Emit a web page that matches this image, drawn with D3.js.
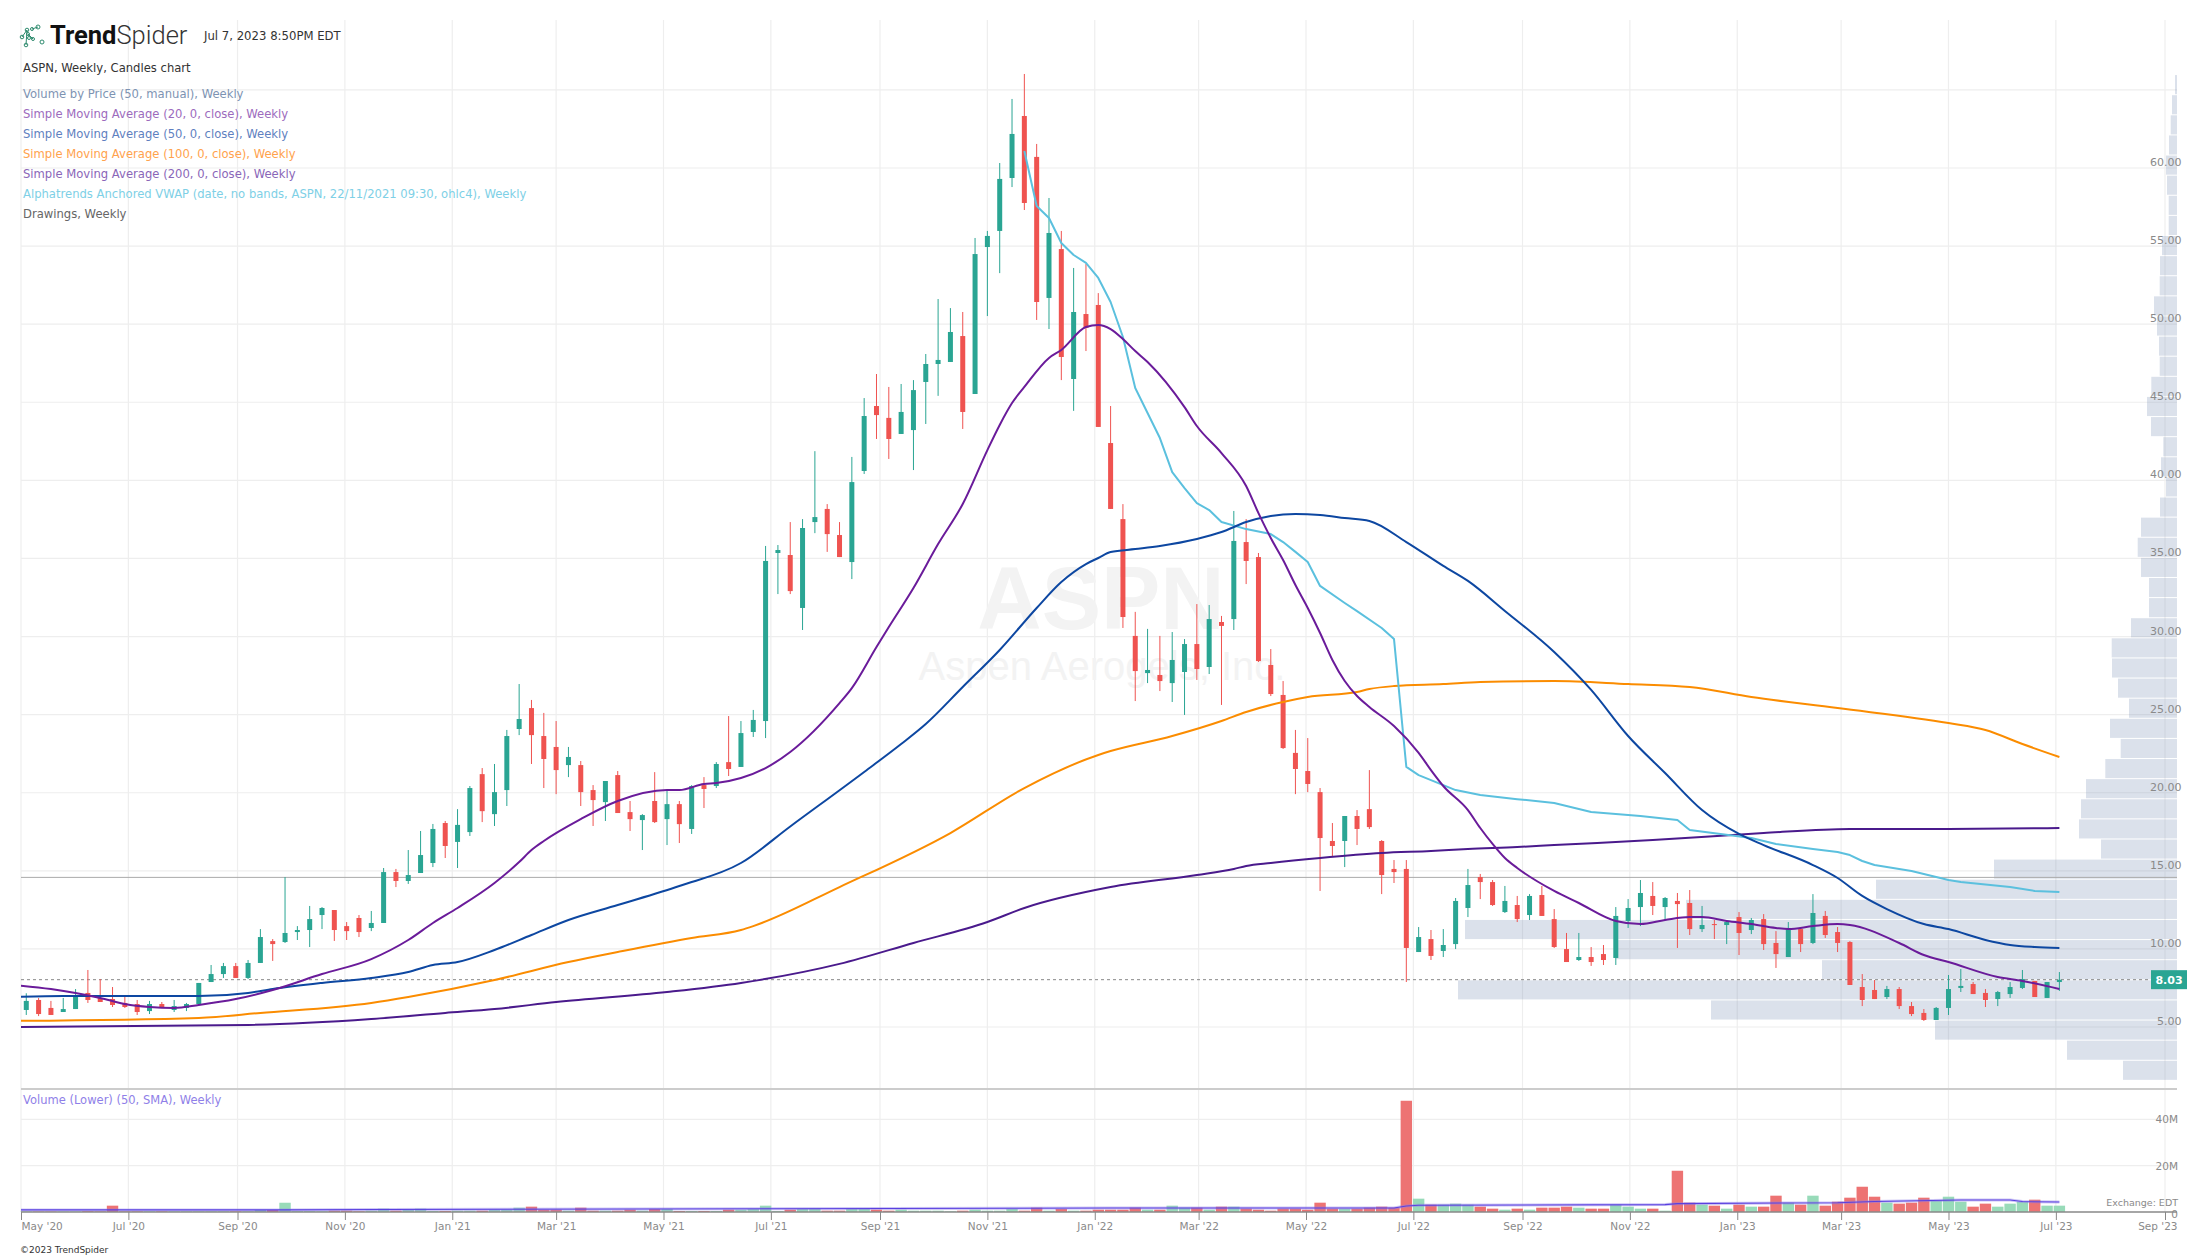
<!DOCTYPE html>
<html>
<head>
<meta charset="utf-8">
<script src="https://cdn.jsdelivr.net/npm/d3@7"></script>
<style>
  body { margin: 0; background: #fff; }
  text { font-family: "DejaVu Sans", sans-serif; }
</style>
</head>
<body>
<script>
// weekly ASPN candles (one value per week, May 2020 - Jul 2023)
var open = [6.09,6.73,6.22,5.96,6.15,7.18,6.86,6.79,6.54,6.47,
  6.02,6.47,6.09,6.22,6.47,7.88,8.39,8.90,8.14,9.10,
  10.50,10.44,11.08,11.21,12.17,12.49,11.46,11.98,11.34,11.66,
  14.92,14.35,14.86,15.50,18.06,16.85,17.48,21.19,18.63,20.17,
  24.08,25.42,23.63,22.93,21.77,21.77,20.17,19.40,21.13,18.76,
  18.25,19.47,18.31,19.27,17.68,20.49,20.43,21.96,21.65,23.89,
  24.59,35.35,35.22,31.83,37.33,38.17,36.50,34.77,40.60,44.76,
  44.00,42.97,43.22,46.30,47.45,47.58,49.24,45.53,54.94,55.97,
  59.36,63.33,60.71,51.68,54.81,46.49,50.65,51.23,42.39,37.52,
  30.04,27.66,27.54,27.02,27.73,29.52,28.05,30.93,31.12,36.05,
  35.09,28.18,26.26,22.55,21.39,20.04,16.91,16.91,18.51,18.95,
  16.91,15.12,15.12,9.80,10.63,9.87,10.31,12.62,14.60,14.28,
  12.36,12.81,12.17,13.45,11.91,9.99,9.29,9.48,9.67,9.42,
  11.79,12.68,13.39,12.68,13.07,12.94,11.27,11.59,11.53,12.04,
  11.21,11.91,10.38,9.48,11.27,10.38,12.11,11.08,10.44,7.56,
  7.37,6.92,7.43,6.34,5.90,5.45,6.22,7.50,7.75,7.18,
  6.79,7.11,7.50,7.95,6.86,7.88];
var high = [7.16,6.86,6.67,6.86,7.43,8.65,8.07,7.56,6.92,6.73,
  6.67,6.60,6.73,6.54,7.82,8.97,9.10,9.10,9.29,11.27,
  10.63,14.60,11.46,12.75,12.68,12.49,11.72,12.17,12.43,15.18,
  15.12,16.33,17.55,18.00,18.19,18.95,20.43,21.58,21.84,24.02,
  26.96,25.94,25.11,24.59,22.93,22.03,20.49,20.75,21.39,19.47,
  18.63,21.32,20.17,19.47,20.49,21.00,21.96,24.91,24.59,25.30,
  35.80,35.86,37.33,37.52,41.87,38.48,37.33,41.50,45.27,46.81,
  45.98,46.17,46.42,48.09,51.61,51.03,50.78,55.52,55.97,60.32,
  64.42,66.02,61.54,58.08,55.97,53.60,53.85,51.99,44.76,38.48,
  31.58,30.49,30.04,30.29,29.84,32.08,32.02,31.32,38.04,37.52,
  35.35,29.20,27.15,24.02,23.50,20.30,18.06,18.51,18.89,21.45,
  16.97,15.69,15.69,11.40,11.21,11.27,13.26,15.12,14.80,14.41,
  14.03,13.39,13.51,14.03,12.55,11.02,11.02,10.12,10.25,12.68,
  13.19,14.41,14.28,13.32,13.58,13.77,12.75,11.85,11.85,12.36,
  11.98,12.23,11.14,11.72,11.40,13.51,12.43,11.40,10.50,8.39,
  8.01,7.63,7.56,6.60,6.15,6.28,8.33,8.71,7.88,7.43,
  7.31,7.88,8.65,7.95,7.88,8.52];
var low = [5.77,5.70,5.77,5.96,6.15,6.54,6.60,6.28,6.22,5.77,
  5.83,6.22,5.96,6.02,6.41,7.88,8.14,8.14,8.07,9.10,
  9.23,10.38,10.57,10.12,11.27,10.51,10.57,10.76,11.14,11.66,
  13.96,14.16,14.86,15.24,15.82,15.18,17.23,18.12,17.87,19.15,
  23.69,21.84,20.30,19.91,21.00,19.15,17.87,18.19,18.70,17.55,
  16.33,18.06,16.65,16.78,17.36,19.02,20.30,21.07,21.65,23.57,
  23.50,32.72,32.72,30.42,36.62,35.42,35.09,33.68,40.41,42.65,
  41.37,42.97,40.66,43.61,45.41,47.58,43.29,45.53,50.52,53.27,
  58.78,57.31,50.27,49.69,46.42,44.45,48.28,43.42,38.17,30.55,
  25.87,27.02,26.51,25.81,24.98,27.22,27.60,25.62,30.42,33.36,
  28.37,26.19,22.80,19.91,20.04,13.71,15.95,15.24,16.65,17.68,
  13.51,14.22,7.88,9.80,9.29,9.48,9.99,12.04,13.19,12.75,
  12.30,11.72,11.85,12.11,10.06,9.16,9.23,8.91,8.97,8.97,
  11.34,11.46,12.17,11.85,10.06,10.89,11.08,10.63,10.31,9.61,
  10.95,9.93,8.78,9.48,9.80,10.31,10.70,9.80,7.69,6.34,
  6.79,6.79,6.15,5.70,5.39,5.45,5.77,7.24,7.11,6.28,
  6.34,6.86,7.43,6.92,6.86,7.31];
var close = [6.67,5.83,5.77,6.15,6.98,6.73,6.60,6.41,6.28,5.96,
  6.47,6.22,6.34,6.47,7.82,8.39,8.90,8.14,9.10,10.76,
  10.31,11.02,11.21,11.91,12.62,11.21,11.14,11.08,11.66,14.92,
  14.35,14.73,16.01,17.68,16.59,17.94,20.30,18.82,20.04,23.63,
  24.72,23.69,22.16,21.45,22.29,20.04,19.53,20.75,18.70,18.31,
  18.57,18.12,19.27,17.99,20.43,20.24,21.84,21.52,23.82,24.66,
  34.84,35.54,32.91,36.95,37.65,36.56,35.09,39.89,44.12,44.18,
  42.65,44.38,45.78,47.45,47.71,49.50,44.38,54.49,55.65,59.30,
  62.18,57.76,51.42,55.84,47.90,50.78,49.76,43.42,38.17,31.25,
  27.79,27.86,27.15,28.50,29.52,27.92,31.12,30.68,36.12,34.84,
  28.43,26.32,22.86,21.52,20.56,17.10,16.59,18.51,17.68,17.80,
  14.73,14.92,10.06,10.76,9.55,10.25,13.07,14.09,14.28,12.81,
  13.07,11.91,13.39,12.11,10.12,9.16,9.48,9.16,9.29,12.11,
  12.62,13.58,12.75,13.26,12.87,11.27,11.53,11.53,11.72,11.02,
  11.85,10.31,9.67,11.34,10.31,12.30,10.89,10.38,7.69,6.73,
  6.79,7.43,6.34,5.83,5.45,6.22,7.43,7.63,7.11,6.73,
  7.24,7.56,8.07,6.92,7.88,8.03];
// weekly volume, millions of shares
var volume = [0.2,0.2,0.2,0.2,0.2,0.4,0.3,2.73,0.3,0.3,
  0.3,0.3,0.3,0.3,0.3,0.3,0.3,0.3,0.3,0.86,
  0.86,4.0,0.43,0.43,0.3,0.57,0.57,0.3,0.57,1.44,
  0.57,0.86,1.44,0.43,0.43,0.57,0.57,0.57,1.0,1.0,
  1.87,2.3,1.0,1.0,0.57,1.87,0.57,0.57,0.57,1.0,
  0.57,1.3,1.3,0.43,0.43,0.43,0.43,1.0,1.0,1.3,
  2.73,0.43,1.0,1.3,1.44,0.57,0.57,1.3,1.3,1.0,
  0.57,1.0,0.57,0.57,0.57,0.3,0.57,1.0,0.57,0.57,
  1.3,0.57,1.87,0.57,1.3,0.57,0.57,1.0,1.0,1.0,
  1.87,1.0,1.0,2.73,1.87,1.87,1.0,2.3,2.3,1.44,
  1.0,0.57,1.44,1.44,1.0,4.02,1.44,1.44,1.44,1.87,
  2.3,1.87,48.0,5.75,3.16,3.16,3.6,3.16,2.3,1.44,
  1.0,1.44,1.0,1.87,1.87,2.3,1.87,1.44,1.44,3.16,
  2.3,1.44,1.44,0.57,17.8,4.02,3.16,2.73,1.44,3.16,
  2.3,2.3,7.04,4.02,3.16,7.04,2.73,4.45,6.18,10.9,
  6.6,4.02,3.6,4.02,6.18,4.89,6.6,4.45,2.3,3.6,
  2.3,3.6,4.45,5.32,2.73,2.73];

// indicator lines: week number (0 = first candle) and value
var sma20Weeks = [-1,2,4,6,8,10,12,14,17,20,24,28,31,33,35,38,40,41,42,45,48,52,53,55,56,58,60,62,66,67,69,70,72,74,76,78,79,80,81,83,84,86,87,88,89,90,91,94,95,97,99,100,101,102,103,104,105,106,107,108,109,111,113,114,115,117,118,119,120,121,124,126,129,131,133,135,136,138,140,142,143,145,147,148,152,154,156,160,162,165];
var sma20 = [7.69,7.43,7.18,6.86,6.47,6.28,6.22,6.41,6.79,7.37,8.39,9.35,10.57,11.66,12.62,14.22,15.56,16.33,16.91,18.31,19.47,20.17,20.17,20.56,20.62,20.94,21.58,22.61,25.74,26.70,29.33,30.61,33.11,35.92,38.49,41.94,43.55,44.95,45.98,47.84,48.35,49.82,49.95,49.69,49.05,48.28,47.58,44.69,43.48,41.75,39.64,37.90,36.31,34.90,33.30,31.83,30.23,28.50,27.15,26.19,25.49,24.27,22.55,21.45,20.43,18.89,17.74,16.72,15.82,15.18,13.71,12.94,11.79,11.59,11.85,12.04,12.04,11.79,11.59,11.34,11.27,11.46,11.59,11.53,10.38,9.61,9.16,8.20,7.95,7.43];
var sma50Weeks = [-1,3,14,18,20,24,28,31,33,35,38,41,44,48,53,58,62,68,71,73,76,79,82,84,86,87,88,90,92,95,97,99,101,103,105,107,109,112,115,117,120,124,127,130,133,136,139,141,145,147,149,151,154,156,159,161,163,165];
var sma50 = [6.92,6.98,6.98,7.18,7.43,7.82,8.14,8.52,8.97,9.16,9.93,10.89,11.85,12.81,14.03,15.50,17.84,21.33,23.12,24.40,26.77,29.14,31.83,33.49,34.64,35.03,35.41,35.60,35.80,36.25,36.69,37.33,37.72,37.85,37.78,37.59,37.40,36.05,34.52,33.56,31.64,29.01,26.58,23.63,21.26,18.89,17.36,16.65,15.37,14.54,13.39,12.55,11.59,11.27,10.57,10.25,10.12,10.06];
var sma100Weeks = [-1,14,19,28,31,38,44,48,54,58,59,66,75,81,87,88,93,97,99,102,104,108,109,111,115,118,124,130,135,140,147,156,159,162,165];
var sma100 = [5.39,5.58,5.90,6.54,6.92,8.01,9.16,9.80,10.70,11.21,11.46,13.96,17.42,20.30,22.42,22.67,23.63,24.59,25.17,25.81,26.13,26.45,26.64,26.83,26.96,27.09,27.15,26.96,26.77,26.13,25.42,24.46,24.02,23.12,22.29];
var sma200Weeks = [-1,18,28,34,38,43,52,58,66,72,78,81,88,95,98,99,101,105,110,114,117,121,124,132,141,148,156,165];
var sma200 = [5.00,5.13,5.51,5.90,6.15,6.60,7.24,7.82,9.04,10.38,11.72,12.62,13.96,14.73,15.12,15.31,15.50,15.82,16.14,16.27,16.40,16.52,16.65,16.97,17.42,17.68,17.68,17.74];
var vwapWeeks = [81,82,83,84,85,86,87,88,89,90,91,92,93,94,95,96,97,99,101,102,103,104,105,107,108,110,111,112,113,115,116,118,121,124,127,131,134,135,140,142,145,147,148,149,150,153,156,157,161,163,165];
var vwap = [61.09,57.57,56.80,55.20,54.43,53.92,52.96,51.42,49.18,45.91,44.31,42.71,40.53,39.51,38.55,38.10,37.33,36.88,36.56,36.05,35.42,34.77,33.24,32.15,31.63,30.55,29.84,21.65,21.13,20.49,20.17,19.85,19.59,19.34,18.76,18.51,18.25,17.61,17.10,16.72,16.40,16.21,16.01,15.63,15.37,14.99,14.41,14.28,13.96,13.71,13.64];
var volSmaWeeks = [-1,21,29,60,80,88,100,111,112,113,133,134,147,150,157,161,162,165];
var volSma = [0.9,0.9,1.1,1.4,1.6,1.7,1.7,1.7,2.6,2.9,3.2,3.6,4.0,4.5,5.2,5.2,4.5,4.3];

// volume by price, 50 bins from the top of the range down (relative size)
var vbpVolume = [2,5,6.3,8,11,10,8.3,8.3,15,17,17.3,23,20,18,17.3,25.7,30,26,13.7,16,
  11,17,36,39.3,36,28,28,46,65.3,65,59,48,67,56.3,71.7,91,96,98,76,183,
  301,491,712,561,355,719,466,242,110,54];
var vbpTop = 65.95;
var vbpStep = 1.288;

var priceTicks = [5,10,15,20,25,30,35,40,45,50,55,60];
var priceGrid = priceTicks.concat([65]);
var volumeTicks = [0,20,40];
var monthTicks = d3.utcMonth.range(new Date(Date.UTC(2020,4,1)), new Date(Date.UTC(2023,9,1)), 2);
var lastPrice = 8.03;
var levelPrice = 14.58;

var legend = [
  ["ASPN, Weekly, Candles chart", "#333333", 68],
  ["Volume by Price (50, manual), Weekly", "#7d93b2", 94],
  ["Simple Moving Average (20, 0, close), Weekly", "#9c6bbd", 114],
  ["Simple Moving Average (50, 0, close), Weekly", "#5f7fc0", 134],
  ["Simple Moving Average (100, 0, close), Weekly", "#ffa24d", 154],
  ["Simple Moving Average (200, 0, close), Weekly", "#8a66b8", 174],
  ["Alphatrends Anchored VWAP (date, no bands, ASPN, 22/11/2021 09:30, ohlc4), Weekly", "#7ed0e6", 194],
  ["Drawings, Weekly", "#666666", 214]
];

var red = "#ef5350", green = "#2aa593";
var gridColor = "#eeeeee", labelColor = "#8a8a8a";
var w = 2207, h = 1259;
var left = 21, right = 2177;

var svg = d3.select("body").append("svg")
  .attr("width", w).attr("height", h)
  .attr("viewBox", `0 0 ${w} ${h}`)
  .style("display", "block");

svg.append("clipPath").attr("id", "plot")
  .append("rect").attr("x", left).attr("y", 0).attr("width", right - left).attr("height", h);

// scales
var firstWeek = new Date(Date.UTC(2020,4,4));
var weekDate = function (k) { return d3.utcMonday.offset(firstWeek, k); };

var x = d3.scaleUtc()
  .domain([new Date(Date.UTC(2020,4,1)), new Date(Date.UTC(2023,8,1))])
  .range([21, 2165]);
var y = d3.scaleLinear().domain([60, 5]).range([168, 1027]);
var yVol = d3.scaleLinear().domain([0, 40]).range([1212, 1119.3]);
var xVbp = d3.scaleLinear().domain([0, 719]).range([right, 1458]);

// grid
svg.append("g").selectAll("line").data(monthTicks).enter().append("line")
  .attr("x1", d => x(d)).attr("x2", d => x(d))
  .attr("y1", 20).attr("y2", yVol(0))
  .attr("stroke", gridColor).attr("stroke-width", 1.2);
svg.append("g").selectAll("line").data(priceGrid).enter().append("line")
  .attr("x1", left).attr("x2", right)
  .attr("y1", d => y(d)).attr("y2", d => y(d))
  .attr("stroke", gridColor).attr("stroke-width", 1.2);
svg.append("g").selectAll("line").data(volumeTicks.slice(1)).enter().append("line")
  .attr("x1", left).attr("x2", right)
  .attr("y1", d => yVol(d)).attr("y2", d => yVol(d))
  .attr("stroke", gridColor).attr("stroke-width", 1.2);

// watermark
svg.append("text").text("ASPN")
  .attr("x", 1101).attr("y", 629).attr("text-anchor", "middle")
  .style("font-family", "'Liberation Sans'").style("font-weight", "bold").style("font-size", "89px")
  .attr("fill", "#f3f3f3");
svg.append("text").text("Aspen Aerogels, Inc.")
  .attr("x", 1102).attr("y", 680).attr("text-anchor", "middle")
  .style("font-family", "'Liberation Sans'").style("font-size", "40px")
  .attr("fill", "#f3f3f3");

// volume by price
svg.append("g").selectAll("rect").data(vbpVolume).enter().append("rect")
  .attr("x", d => xVbp(d))
  .attr("width", d => right - xVbp(d))
  .attr("y", (d, i) => y(vbpTop - i * vbpStep))
  .attr("height", (d, i) => y(vbpTop - (i + 1) * vbpStep) - y(vbpTop - i * vbpStep) - 1)
  .attr("fill", "#7f95b8").attr("opacity", 0.28);

// level lines
svg.append("line")
  .attr("x1", left).attr("x2", right)
  .attr("y1", y(levelPrice)).attr("y2", y(levelPrice))
  .attr("stroke", "#aaaaaa").attr("stroke-width", 1);
svg.append("line")
  .attr("x1", left).attr("x2", 2152)
  .attr("y1", y(lastPrice)).attr("y2", y(lastPrice))
  .attr("stroke", "#888888").attr("stroke-dasharray", "3,3").attr("stroke-width", 1);

// candles
var weeks = d3.range(open.length);
var candles = svg.append("g").selectAll("g").data(weeks).enter().append("g");
candles.append("line")
  .attr("x1", k => x(weekDate(k))).attr("x2", k => x(weekDate(k)))
  .attr("y1", k => y(high[k])).attr("y2", k => y(low[k]))
  .attr("stroke", k => close[k] >= open[k] ? green : red)
  .attr("stroke-width", 1);
candles.append("rect")
  .attr("x", k => x(weekDate(k)) - 2.5).attr("width", 5)
  .attr("y", k => y(Math.max(open[k], close[k])))
  .attr("height", k => Math.max(1, Math.abs(y(open[k]) - y(close[k]))))
  .attr("fill", k => close[k] >= open[k] ? green : red);

// indicator lines
var drawLine = function (wk, vals, yScale, color, width, op, curve) {
  var line = d3.line()
    .x(k => x(weekDate(k)))
    .y((k, i) => yScale(vals[i]))
    .curve(curve || d3.curveLinear);
  svg.append("path")
    .attr("d", line(wk))
    .attr("clip-path", "url(#plot)")
    .attr("fill", "none")
    .attr("stroke", color)
    .attr("stroke-width", width)
    .attr("stroke-linejoin", "round")
    .attr("opacity", op || 1);
};
drawLine(sma200Weeks, sma200, y, "#4a1a8c", 2, 1, d3.curveMonotoneX);
drawLine(sma100Weeks, sma100, y, "#fb8c00", 2, 1, d3.curveMonotoneX);
drawLine(vwapWeeks, vwap, y, "#5bc0de", 2);
drawLine(sma50Weeks, sma50, y, "#0d47a1", 2, 1, d3.curveMonotoneX);
drawLine(sma20Weeks, sma20, y, "#6a1b9a", 2, 1, d3.curveMonotoneX);

// separator between the panes
svg.append("line")
  .attr("x1", left).attr("x2", right).attr("y1", 1089).attr("y2", 1089)
  .attr("stroke", "#cccccc").attr("stroke-width", 2);

// volume pane
svg.append("g").selectAll("rect").data(weeks).enter().append("rect")
  .attr("x", k => x(weekDate(k)) - 5.7).attr("width", 11.4)
  .attr("y", k => yVol(volume[k]))
  .attr("height", k => yVol(0) - yVol(volume[k]))
  .attr("fill", k => close[k] >= open[k] ? "#98dbb9" : "#ed7373");
drawLine(volSmaWeeks, volSma, yVol, "#8f7fe8", 3, 0.45);
drawLine(volSmaWeeks, volSma, yVol, "#5a40e0", 1.1);

// x axis
var xAxis = svg.append("g")
  .attr("transform", `translate(0,${yVol(0)})`)
  .call(d3.axisBottom(x).tickValues(monthTicks).tickFormat(d3.utcFormat("%b '%y")).tickSize(8).tickPadding(3));
xAxis.select(".domain").remove();
xAxis.selectAll("line").attr("stroke", "#888888");
xAxis.selectAll("text")
  .style("font-size", "10.5px").attr("fill", labelColor)
  .attr("text-anchor", (d, i) => i === 0 ? "start" : "middle");
xAxis.selectAll(".tick:last-child text").attr("text-anchor", "end").attr("x", right - x(monthTicks[monthTicks.length - 1]));
svg.append("line")
  .attr("x1", left).attr("x2", right).attr("y1", yVol(0)).attr("y2", yVol(0))
  .attr("stroke", "#888888").attr("stroke-width", 1.4);

// price labels
svg.append("g").selectAll("text").data(priceTicks).enter().append("text")
  .attr("x", 2181.5).attr("y", d => y(d) - 2)
  .attr("text-anchor", "end")
  .style("font-size", "11px").attr("fill", labelColor)
  .text(d => d3.format(".2f")(d));

// volume labels
svg.append("g").selectAll("text").data(volumeTicks).enter().append("text")
  .attr("x", 2178).attr("y", d => yVol(d) + (d === 0 ? 6 : 4))
  .attr("text-anchor", "end")
  .style("font-size", "10.5px").attr("fill", labelColor)
  .text(d => d === 0 ? "0" : d + "M");
svg.append("text").text("Exchange: EDT")
  .attr("x", 2178).attr("y", 1206).attr("text-anchor", "end")
  .style("font-size", "9.5px").attr("fill", labelColor);

// last price tag
svg.append("rect")
  .attr("x", 2151).attr("width", 36)
  .attr("y", y(lastPrice) - 9.5).attr("height", 19)
  .attr("fill", green);
svg.append("text").text(d3.format(".2f")(lastPrice))
  .attr("x", 2169).attr("y", y(lastPrice) + 4).attr("text-anchor", "middle")
  .style("font-size", "11px").style("font-weight", "bold").attr("fill", "#fff");

// legends
svg.append("g").selectAll("text").data(legend).enter().append("text")
  .attr("x", 23).attr("y", d => d[2] + 4)
  .style("font-size", "11.6px").attr("fill", d => d[1])
  .text(d => d[0]);
svg.append("text").text("Volume (Lower) (50, SMA), Weekly")
  .attr("x", 23).attr("y", 1104)
  .style("font-size", "11.5px").attr("fill", "#8f7fe8");

// header
var logo = svg.append("g").attr("fill", "none").attr("stroke", "#2e8b6e").attr("stroke-width", 1);
logo.selectAll("circle")
  .data([[22,37,1.8],[27,30,1.8],[28,34,1.5],[29,38,1.5],[26,45,1.8],[33,39,1.5],[38,27,2],[32,29,1.5],[42,42,2]])
  .enter().append("circle")
  .attr("cx", d => d[0]).attr("cy", d => d[1]).attr("r", d => d[2]);
logo.append("path").attr("d", "M22 37L27 30M27 30L26 45M28 34L33 39M32 29L38 27");

var brand = svg.append("text").attr("x", 50).attr("y", 44)
  .style("font-family", "Roboto").style("font-size", "25.5px").attr("fill", "#111");
brand.append("tspan").style("font-weight", "700").text("Trend");
brand.append("tspan").style("font-weight", "300").attr("fill", "#333").text("Spider");
svg.append("text").text("Jul 7, 2023 8:50PM EDT")
  .attr("x", 204).attr("y", 40)
  .style("font-size", "11.7px").attr("fill", "#333");
svg.append("text").text("\u00a92023 TrendSpider")
  .attr("x", 20).attr("y", 1253)
  .style("font-size", "9px").attr("fill", "#333");
</script>
</body>
</html>
